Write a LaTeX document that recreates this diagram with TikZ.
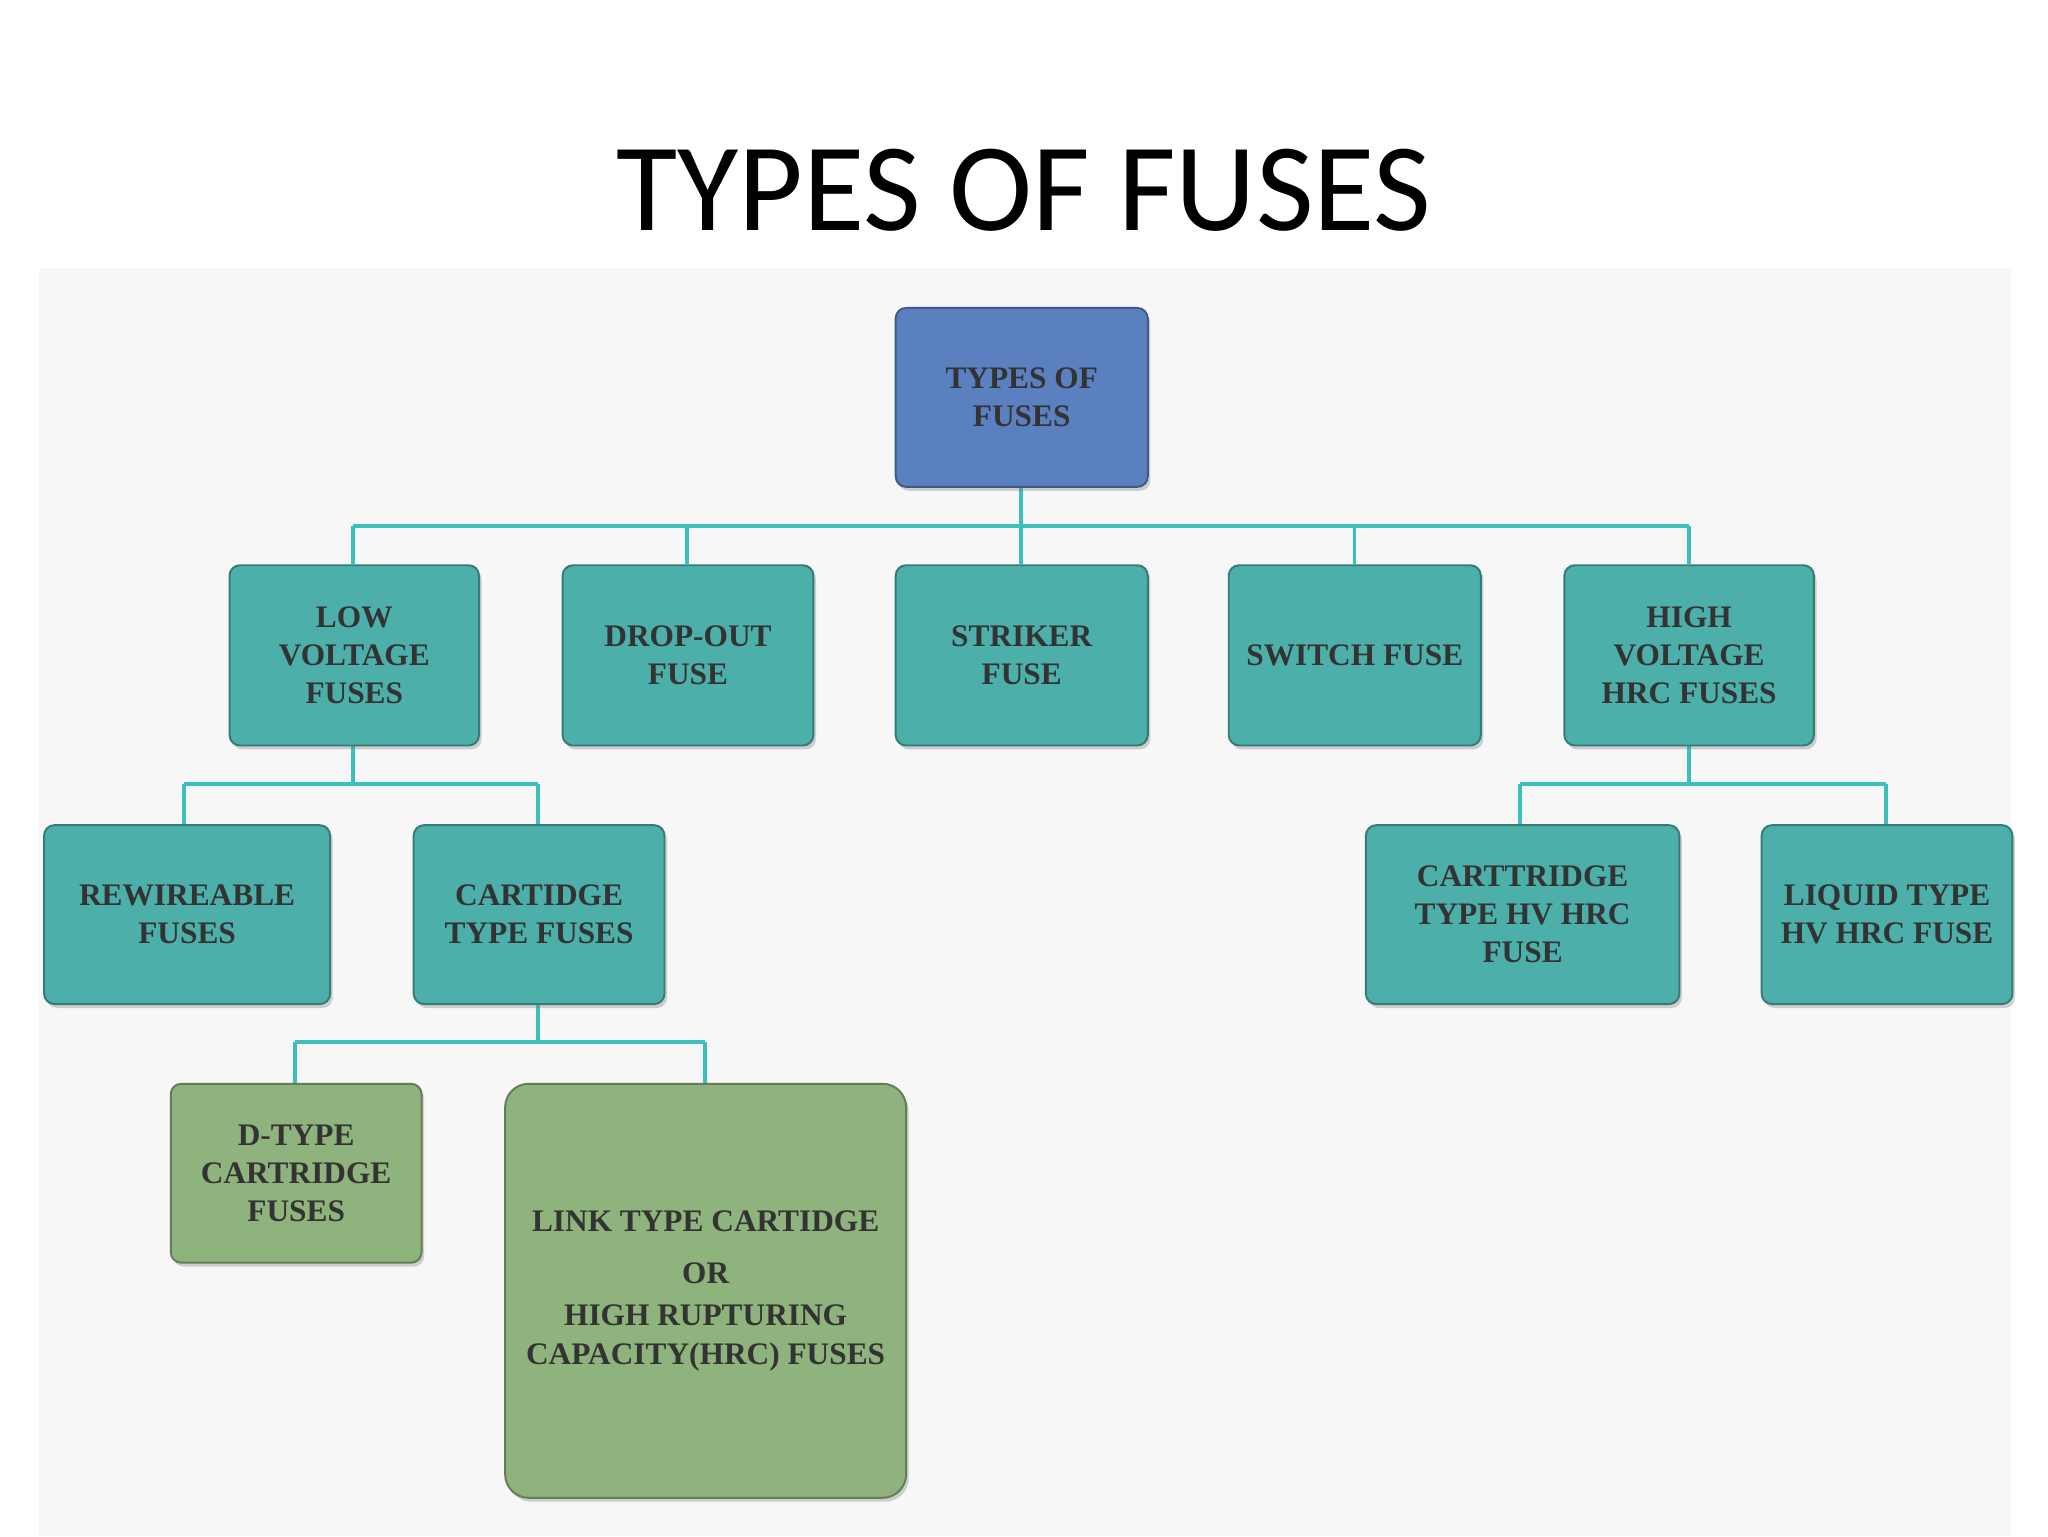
\documentclass[tikz,border=0pt]{standalone}
\usepackage{fontspec}
\usetikzlibrary{shadows}
\setmainfont{Liberation Serif}
\newfontfamily\titlefont{Carlito}
\begin{document}
\begin{tikzpicture}[x=1pt,y=-1pt,
  bx/.style={draw=#1!70!black,line width=1.5pt,rounded corners=8pt,fill=#1,inner sep=0pt,align=center,font=\fontsize{24}{29}\selectfont\bfseries,text=black!80,
   drop shadow={shadow xshift=2pt,shadow yshift=-3pt,opacity=0.35}},
  ln/.style={draw=lnc,line width=3pt}]
\definecolor{bl}{HTML}{5B80C0}
\definecolor{tl}{HTML}{4DAFAA}
\definecolor{gr}{HTML}{8FB37C}
\definecolor{lnc}{HTML}{3CC0BE}
\useasboundingbox (0,0) rectangle (1568,1176);
\fill[white] (0,0) rectangle (1568,1176);
\fill[gray!6] (30,205) rectangle (1540,1176);
\node[font=\titlefont\fontsize{96}{100}\selectfont] (title) at (784,146) {TYPES OF FUSES};
\coordinate (b1l) at (270,403); \coordinate (b1r) at (1293,403);
\coordinate (b1m) at (782,403);
\draw[ln] (b1l) -- (b1r);
\draw[ln] (782,372) -- (b1m);
\foreach \x in {270,526,782,1037,1293} \draw[ln] (\x,403) -- (\x,432);
\draw[ln] (270,570) -- (270,600); \draw[ln] (141,600) -- (412,600);
\draw[ln] (141,600) -- (141,631); \draw[ln] (412,600) -- (412,631);
\draw[ln] (1293,570) -- (1293,600); \draw[ln] (1164,600) -- (1444,600);
\draw[ln] (1164,600) -- (1164,631); \draw[ln] (1444,600) -- (1444,631);
\draw[ln] (412,768) -- (412,798); \draw[ln] (226,798) -- (540,798);
\draw[ln] (226,798) -- (226,829); \draw[ln] (540,798) -- (540,829);
\node[bx=bl,minimum width=193,minimum height=137,anchor=north west] (root) at (685,235) {TYPES OF\\FUSES};
\node[bx=tl,minimum width=191,minimum height=138,anchor=north west] (lv) at (175,432) {LOW\\VOLTAGE\\FUSES};
\node[bx=tl,minimum width=192,minimum height=138,anchor=north west] (drop) at (430,432) {DROP-OUT\\FUSE};
\node[bx=tl,minimum width=193,minimum height=138,anchor=north west] (str) at (685,432) {STRIKER\\FUSE};
\node[bx=tl,minimum width=193,minimum height=138,anchor=north west] (sw) at (940,432) {SWITCH FUSE};
\node[bx=tl,minimum width=191,minimum height=138,anchor=north west] (hv) at (1197,432) {HIGH\\VOLTAGE\\HRC FUSES};
\node[bx=tl,minimum width=219,minimum height=137,anchor=north west] (rw) at (33,631) {REWIREABLE\\FUSES};
\node[bx=tl,minimum width=192,minimum height=137,anchor=north west] (ct) at (316,631) {CARTIDGE\\TYPE FUSES};
\node[bx=tl,minimum width=240,minimum height=137,anchor=north west] (chv) at (1045,631) {CARTTRIDGE\\TYPE HV HRC\\FUSE};
\node[bx=tl,minimum width=192,minimum height=137,anchor=north west] (liq) at (1348,631) {LIQUID TYPE\\HV HRC FUSE};
\node[bx=gr,minimum width=192,minimum height=137,anchor=north west] (dt) at (130,829) {D-TYPE\\CARTRIDGE\\FUSES};
\node[bx=gr,minimum width=307,minimum height=317,rounded corners=18pt,anchor=north west,font=\fontsize{24}{40}\selectfont\bfseries] (lk) at (386,829) {LINK TYPE CARTIDGE\\OR\\[-8pt]HIGH RUPTURING\\[-10pt]CAPACITY(HRC) FUSES};
\end{tikzpicture}
\end{document}
